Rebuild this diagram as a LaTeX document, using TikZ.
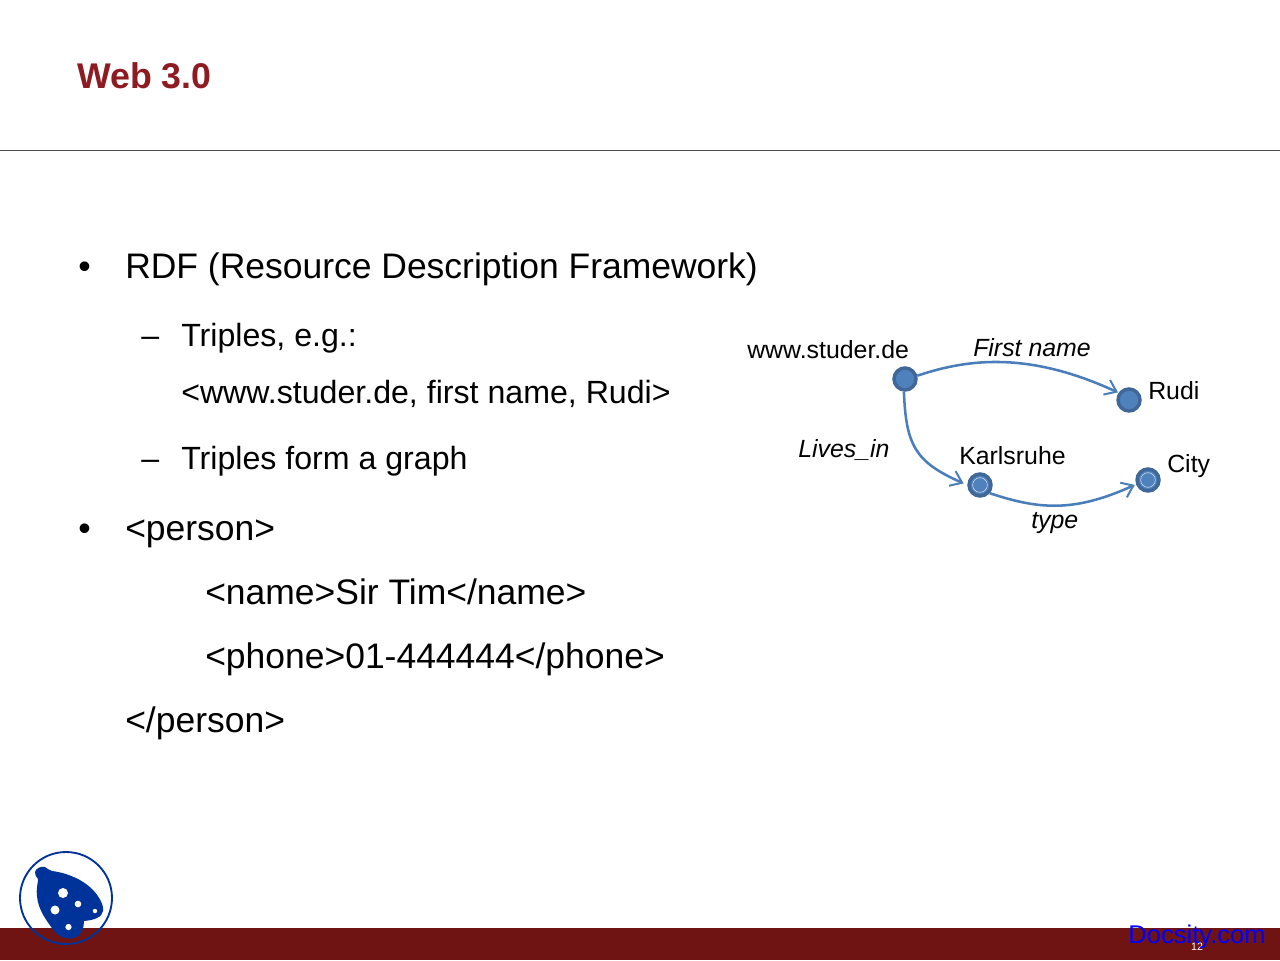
\documentclass[tikz,border=0pt]{standalone}
\usepackage{fontspec}
\setmainfont{Liberation Sans}
\usetikzlibrary{arrows.meta}
\definecolor{barred}{HTML}{6F1413}
\definecolor{titlered}{HTML}{8E1A22}
\definecolor{ringblue}{HTML}{3F6797}
\definecolor{fillblue}{HTML}{4F81BD}
\definecolor{edgeblue}{HTML}{4A7EBB}
\definecolor{logoblue}{HTML}{003399}
\tikzset{
  body/.style={anchor=base west,inner sep=0pt,font=\fontsize{26.6}{26.6}\selectfont,text=black},
  sub/.style={anchor=base west,inner sep=0pt,font=\fontsize{24.1}{24.1}\selectfont,text=black},
  lab/.style={anchor=base west,inner sep=0pt,font=\fontsize{18.65}{18.65}\selectfont,text=black},
  ilab/.style={lab,font=\fontsize{18.65}{18.65}\selectfont\itshape},
  rdfnode/.style={circle,draw=ringblue,fill=fillblue,line width=2.6pt,minimum size=16.5pt,inner sep=0pt},
  rdfinner/.style={circle,draw=white!85!fillblue,line width=0.35pt,minimum size=11pt,inner sep=0pt},
  rdfedge/.style={draw=edgeblue,line width=1.9pt,-{Straight Barb[length=8pt,width=12pt,line width=1.5pt]}}
}
\begin{document}
\begin{tikzpicture}[x=0.75pt,y=-0.75pt]
\useasboundingbox (0,0) rectangle (1280,960);
\fill[white] (0,0) rectangle (1280,960);
\node[anchor=base west,inner sep=0pt,font=\fontsize{26.8}{26.8}\selectfont\bfseries,text=titlered] (title) at (77,88) {Web 3.0};
\coordinate (ruleL) at (0,150);
\coordinate (ruleR) at (1280,150);
\draw[line width=0.75pt,draw=black!70] (ruleL) -- (ruleR);
% body
\node[body] (b1) at (78,278) {•};
\node[body] (t1) at (125,278) {RDF (Resource Description Framework)};
\node[sub] (d1) at (141,346) {–};
\node[sub] (t2) at (181,346) {Triples, e.g.:};
\node[sub] (t3) at (181,403) {<www.studer.de, first name, Rudi>};
\node[sub] (d2) at (141,469) {–};
\node[sub] (t4) at (181,469) {Triples form a graph};
\node[body] (b2) at (78,540) {•};
\node[body] (t5) at (125,540) {<person>};
\node[body] (t6) at (205,604) {<name>Sir Tim</name>};
\node[body] (t7) at (205,668) {<phone>01-444444</phone>};
\node[body] (t8) at (125,732) {</person>};
% graph
\node[rdfnode] (www) at (905,379) {};
\node[rdfnode] (rudi) at (1129,400) {};
\node[rdfnode] (karl) at (980,485) {};
\node[rdfnode] (city) at (1148,480) {};
\node[rdfinner] (karlin) at (980,485) {};
\node[rdfinner] (cityin) at (1148,480) {};
\draw[rdfedge,shorten >=0.5pt] (www.15) .. controls (970,358) and (1030,352) .. (rudi.145);
\draw[rdfedge,shorten >=3pt] (www.-95) .. controls (906,445) and (915,462) .. (karl.180);
\draw[rdfedge,shorten >=1pt] (karl.-40) .. controls (1040,510) and (1075,512) .. (city.200);
\node[lab] (lwww) at (747,358) {www.studer.de};
\node[ilab] (lfirst) at (973,356) {First name};
\node[lab] (lrudi) at (1148,399) {Rudi};
\node[ilab] (llives) at (798,457) {Lives\_in};
\node[lab] (lkarl) at (959,464) {Karlsruhe};
\node[lab] (lcity) at (1167,472) {City};
\node[ilab] (ltype) at (1031,528) {type};
% footer
\fill[barred] (0,928) rectangle (1280,960);
\draw[logoblue,line width=1.4pt] (66,898) circle[radius=46];
\fill[logoblue] (35,872) .. controls (36,868) and (41,866) .. (45,867)
  .. controls (48,868) and (49,871) .. (52,871)
  .. controls (68,873) and (83,880) .. (92,889)
  .. controls (99,896) and (104,905) .. (103,911)
  .. controls (102,917) and (95,920) .. (84,921)
  .. controls (84,928) and (82,936) .. (73,938)
  .. controls (65,940) and (58,936) .. (54,931)
  .. controls (47,921) and (38,910) .. (37,896)
  .. controls (36,888) and (38,884) .. (38,879)
  .. controls (36,877) and (35,875) .. (35,872) -- cycle;
\fill[white] (63,893) circle[radius=5] (55,910) circle[radius=4.5] (78,904) circle[radius=3.3] (95,911) circle[radius=2.2] (68.5,927) circle[radius=3.1];
\node[anchor=base,inner sep=0pt,font=\fontsize{8}{8}\selectfont,text=white] (page) at (1197,950) {12};
\node[anchor=base west,inner sep=0pt,font=\fontsize{19.2}{19.2}\selectfont,text=blue] (doc) at (1128,943) {Docsity.com};
\end{tikzpicture}
\end{document}
